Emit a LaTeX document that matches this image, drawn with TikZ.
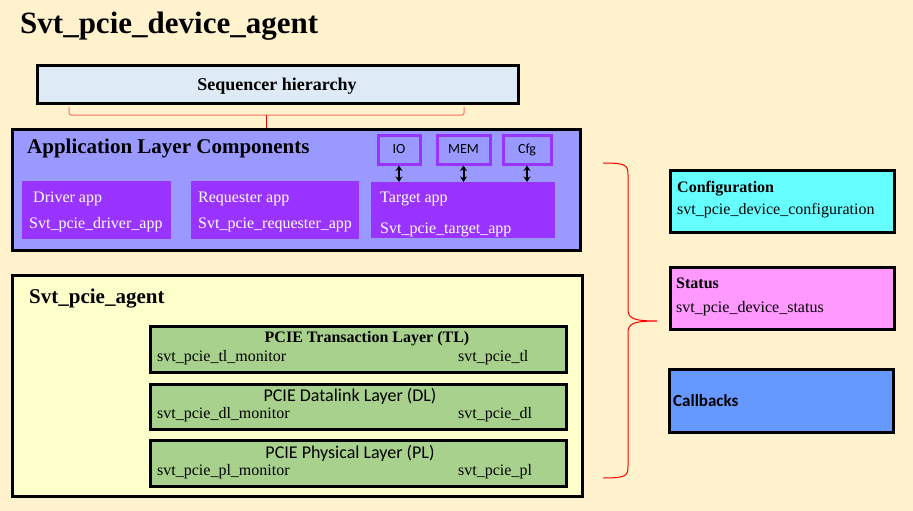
\documentclass[tikz,border=0pt]{standalone}
\usepackage{fontspec}
\setmainfont{Liberation Serif}
\newfontfamily\calib{Carlito}
\usetikzlibrary{arrows.meta}
\definecolor{bgc}{HTML}{FFF2CC}
\definecolor{seqc}{HTML}{DEEBF7}
\definecolor{appc}{HTML}{9999FF}
\definecolor{purp}{HTML}{9933FF}
\definecolor{agentc}{HTML}{FFFFCC}
\definecolor{greenc}{HTML}{A9D18E}
\definecolor{cyanc}{HTML}{66FFFF}
\definecolor{pinkc}{HTML}{FF99FF}
\definecolor{cbc}{HTML}{6699FF}
\definecolor{salmon}{HTML}{FF7060}
\begin{document}
\begin{tikzpicture}[x=1pt,y=-1pt,
  box/.style={draw=black, line width=3pt, inner sep=0pt, anchor=north west},
  appbox/.style={fill=purp, inner sep=0pt, anchor=north west},
  ifbox/.style={draw=purp, fill=appc, line width=3pt, inner sep=0pt, anchor=north west, font=\calib\fontsize{14}{16}\selectfont},
  txt/.style={anchor=base west, inner sep=0pt, font=\fontsize{16}{19}\selectfont},
  btxt/.style={anchor=base west, inner sep=0pt, font=\bfseries\fontsize{16}{19}\selectfont},
  wtxt/.style={txt, text=white},
  ltitle/.style={anchor=base, inner sep=0pt, font=\calib\fontsize{18}{21}\selectfont},
  dbl/.style={{Stealth[length=5.5pt,width=7pt]}-{Stealth[length=5.5pt,width=7pt]}, line width=2pt, black}
]
\fill[bgc] (0,0) rectangle (913,511);
\useasboundingbox (0,0) rectangle (913,511);

% title
\node[anchor=base west, inner sep=0pt, font=\bfseries\fontsize{31}{36}\selectfont] (title) at (20,34) {Svt\_pcie\_device\_agent};

% sequencer
\node[box, fill=seqc, minimum width=481pt, minimum height=37pt] (seq) at (35.5,64.5) {};
\node[anchor=base, inner sep=0pt, font=\bfseries\fontsize{18}{21}\selectfont] (seqt) at (277,91) {Sequencer hierarchy};

% application layer
\node[box, fill=appc, minimum width=568pt, minimum height=121pt] (app) at (10.5,127.5) {};
\node[anchor=base west, inner sep=0pt, font=\bfseries\fontsize{21}{25}\selectfont] (appt) at (27,153) {Application Layer Components};

\node[ifbox, minimum width=42pt, minimum height=29pt] (io) at (376.5,133.5) {IO};
\node[ifbox, minimum width=53pt, minimum height=29pt] (mem) at (435.5,133.5) {MEM};
\node[ifbox, minimum width=48pt, minimum height=29pt] (cfg) at (501.5,133.5) {Cfg};

\node[appbox, minimum width=149pt, minimum height=58pt] (drv) at (22,181) {};
\node[appbox, minimum width=168pt, minimum height=58pt] (req) at (191,181) {};
\node[appbox, minimum width=184pt, minimum height=56pt] (tgt) at (371,182) {};

\node[wtxt] (drv1) at (33,202) {Driver app};
\node[wtxt] (drv2) at (29,228) {Svt\_pcie\_driver\_app};
\node[wtxt] (req1) at (198,202) {Requester app};
\node[wtxt] (req2) at (198,228) {Svt\_pcie\_requester\_app};
\node[wtxt] (tgt1) at (380,202) {Target app};
\node[wtxt] (tgt2) at (380,233) {Svt\_pcie\_target\_app};

\draw[dbl] (io.south) -- (io.south |- tgt.north);
\draw[dbl] (mem.south) -- (mem.south |- tgt.north);
\draw[dbl] (cfg.south) -- (cfg.south |- tgt.north);

% sequencer bracket
\coordinate (bl) at (69,107);
\coordinate (br) at (464,107);
\coordinate (bm) at (266,115);
\draw[salmon, line width=1pt, rounded corners=2pt] (bl) -- (69,115) -- (464,115) -- (br);
\draw[red, line width=1pt] (bm) -- (bm |- app.north);

% agent
\node[box, fill=agentc, minimum width=570pt, minimum height=221pt] (agent) at (10.5,273.5) {};
\node[anchor=base west, inner sep=0pt, font=\bfseries\fontsize{21}{25}\selectfont] (agentt) at (29,303) {Svt\_pcie\_agent};

\node[box, fill=greenc, minimum width=416pt, minimum height=46pt] (tl) at (148.5,324.5) {};
\node[anchor=base, inner sep=0pt, font=\bfseries\fontsize{16}{19}\selectfont] (tlt) at (367,342) {PCIE Transaction Layer (TL)};
\node[txt] (tlm) at (157,361) {svt\_pcie\_tl\_monitor};
\node[txt] (tla) at (458,361) {svt\_pcie\_tl};

\node[box, fill=greenc, minimum width=416pt, minimum height=45pt] (dl) at (148.5,382.5) {};
\node[ltitle] (dlt) at (350,401) {PCIE Datalink Layer (DL)};
\node[txt] (dlm) at (157,418) {svt\_pcie\_dl\_monitor};
\node[txt] (dla) at (458,418) {svt\_pcie\_dl};

\node[box, fill=greenc, minimum width=416pt, minimum height=46pt] (pl) at (148.5,438.5) {};
\node[ltitle] (plt) at (350,458) {PCIE Physical Layer (PL)};
\node[txt] (plm) at (157,475) {svt\_pcie\_pl\_monitor};
\node[txt] (pla) at (458,475) {svt\_pcie\_pl};

% right side
\node[box, fill=cyanc, minimum width=224pt, minimum height=62pt] (conf) at (668.5,168.5) {};
\node[btxt] (conft) at (677,192) {Configuration};
\node[txt] (confs) at (677,214) {svt\_pcie\_device\_configuration};

\node[box, fill=pinkc, minimum width=224pt, minimum height=62pt] (stat) at (668.5,265.5) {};
\node[btxt] (statt) at (676,288) {Status};
\node[txt] (stats) at (676,312) {svt\_pcie\_device\_status};

\node[box, fill=cbc, minimum width=224pt, minimum height=63pt] (cb) at (667.5,367.5) {};
\node[anchor=base west, inner sep=0pt, font=\calib\bfseries\fontsize{17}{20}\selectfont] (cbt) at (673,406) {Callbacks};

% right brace
\coordinate (rbt) at (603,163);
\coordinate (rbb) at (603,478);
\coordinate (rtip) at (657,321);
\draw[red, line width=1pt] (rbt) .. controls (626,163) and (628,165) .. (628,175) -- (628,309)
  .. controls (628,318) and (632,321) .. (rtip)
  .. controls (632,321) and (628,324) .. (628,333) -- (628,466)
  .. controls (628,476) and (626,478) .. (rbb);
\end{tikzpicture}
\end{document}
